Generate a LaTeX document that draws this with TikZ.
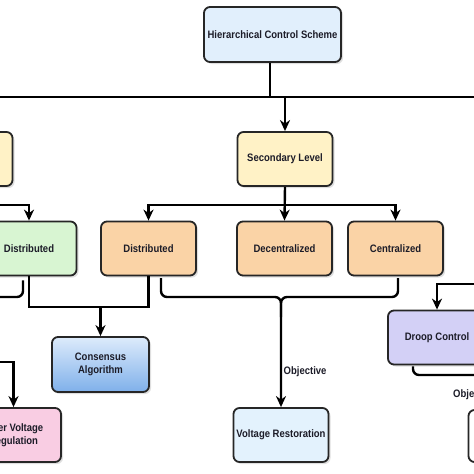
\documentclass[tikz,border=0pt]{standalone}
\usepackage{fontspec}
\setmainfont[FakeStretch=0.88]{Liberation Sans}
\usetikzlibrary{arrows.meta,shadows}
\definecolor{schemeblue}{HTML}{E1EFFC}
\definecolor{levelyellow}{HTML}{FFF2C6}
\definecolor{distgreen}{HTML}{D8F5D2}
\definecolor{modeorange}{HTML}{FAD3A6}
\definecolor{constop}{HTML}{DDEBFB}
\definecolor{consbottom}{HTML}{7FB0EA}
\definecolor{regpink}{HTML}{F9CDE3}
\definecolor{drooplilac}{HTML}{D3D0F6}
\definecolor{restblue}{HTML}{E3F2FD}
\definecolor{boxtext}{HTML}{1C1C28}

\begin{document}
\begin{tikzpicture}[x=1pt,y=-1pt]
\tikzstyle{every node}+=[font=\fontsize{10.8}{12.5}\selectfont\bfseries, text=boxtext]
\tikzstyle{box}=[draw=black!85, line width=1.8pt, rounded corners=6pt, minimum width=95pt, minimum height=54pt, align=center, inner sep=2pt, drop shadow={shadow xshift=2pt, shadow yshift=-2pt, opacity=0.25}]
\tikzstyle{wire}=[black, line width=2.4pt]
\tikzstyle{feed}=[wire, -{Stealth[length=11pt, width=10pt, inset=3.5pt]}]
\useasboundingbox (0,0) rectangle (474,474);
\clip (0,0) rectangle (474,474);
\fill [white] (0,0) rectangle (474,474);
\node (hcs) at (272.5,34.5) [box, fill=schemeblue, minimum width=137pt, minimum height=55pt] {Hierarchical Control Scheme};
\node (prim) at (-35,159) [box, fill=levelyellow] {};
\node (sec) at (285,159) [box, fill=levelyellow] {Secondary Level};
\node (dgreen) at (29,248.5) [box, fill=distgreen] {Distributed};
\node (dist) at (148.5,248.5) [box, fill=modeorange] {Distributed};
\node (dec) at (284.5,248.5) [box, fill=modeorange] {Decentralized};
\node (cen) at (395.5,248.5) [box, fill=modeorange] {Centralized};
\node (cons) at (100.5,364.5) [box, top color=constop, bottom color=consbottom, minimum width=97pt, minimum height=55pt] {Consensus\\Algorithm};
\node (ivr) at (13.5,435) [box, fill=regpink] {Inner Voltage\\Regulation};
\node (vr) at (281,435) [box, fill=restblue] {Voltage Restoration};
\node (droop) at (437,337.5) [box, fill=drooplilac, minimum width=98pt] {Droop Control};
\node (target) at (516,436) [box, fill=white, minimum height=52pt] {};
\node (objr) at (453,395) [anchor=west, inner sep=0pt] {Objective};
\coordinate (busL) at (-10,97);
\coordinate (busR) at (484,97);
\coordinate (split) at (285,205);
\coordinate (greenin) at (-10,205);
\coordinate (join) at (100.5,307);
\coordinate (bl) at (161,278);
\coordinate (br) at (398,278);
\coordinate (tip) at (281,297);
\coordinate (ivrin) at (-10,362);
\coordinate (droopin) at (484,284);
\draw [wire] (busL) -- (busR);
\draw [wire] ([xshift=-2.5pt]hcs.south) -- ([xshift=-2.5pt]hcs.south |- busL);
\draw [feed] (sec |- busL) -- (sec.north);
\draw [feed] (sec.south) -- (dec.north);
\draw [feed] (split) -| (dist.north);
\draw [feed] (split) -| (cen.north);
\draw [feed] (greenin) -| (dgreen.north);
\draw [wire] (dgreen.south) |- (join) -| (dist.south);
\draw [feed] (join) -- (cons.north);
\draw [wire, rounded corners=6pt] ([shift={(-6,4)}]dgreen.south) |- (-10,297);
\draw [wire, rounded corners=6pt] (br) |- (tip) -- ++(0,20);
\draw [feed, rounded corners=6pt] (bl) |- (tip) -- node[pos=0.68, right, inner sep=1.5pt] {Objective} (vr.north);
\draw [feed] (ivrin) -| (ivr.north);
\draw [feed] (droopin) -| (droop.north);
\draw [wire, rounded corners=6pt] ([shift={(-24,1)}]droop.south) |- (484,375);
\end{tikzpicture}
\end{document}
